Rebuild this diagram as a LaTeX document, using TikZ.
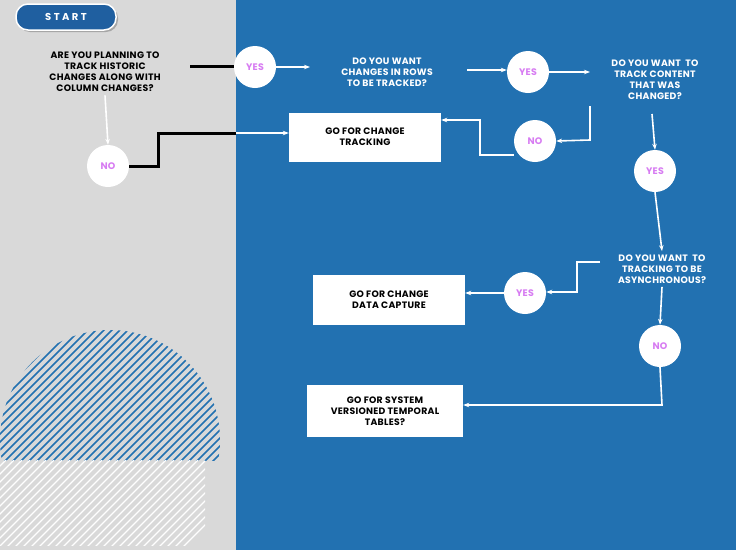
\documentclass[tikz,border=0pt]{standalone}
\usepackage{fontspec}
\setmainfont{Poppins}[LetterSpace=3]
\usetikzlibrary{arrows.meta}
\definecolor{bluebg}{HTML}{2271B1}
\definecolor{grayp}{HTML}{D9D9D9}
\definecolor{pink}{HTML}{D77CF2}
\definecolor{startb}{HTML}{1F5FA0}
\begin{document}
\begin{tikzpicture}[x=1pt,y=-1pt,
 txt/.style={align=center,font=\bfseries\fontsize{9.3}{11}\selectfont},
 wt/.style={txt,text=white},
 circ/.style={circle,fill=white,minimum size=42pt,inner sep=0pt,text=pink,font=\bfseries\fontsize{9.5}{10}\selectfont},
 box/.style={fill=white,txt,text=black,inner sep=0pt},
 wa/.style={draw=white,line width=1.6pt,-{Stealth[length=6pt]}},
 ba/.style={draw=black,line width=3pt}]
\useasboundingbox (0,0) rectangle (736,555);
\fill[white] (0,0) rectangle (736,555);
\fill[grayp] (0,0) rectangle (236,550);
\fill[bluebg] (236,0) rectangle (736,550);
% striped circle
\begin{scope}
\clip (110,440) circle (110);
\clip (0,300) rectangle (236,460);
\foreach \i in {-40,...,60}{\draw[bluebg,line width=1.6pt] (\i*8,250) -- ++(-320,320);}
\end{scope}
\begin{scope}
\clip (0,460) rectangle (205,545);
\foreach \i in {-40,...,60}{\draw[white,line width=1.3pt] (\i*8,250) -- ++(-320,320);}
\end{scope}
% start
\fill[gray!70,rounded corners=12pt] (18,6) rectangle (118,32);
\node[draw=white,line width=1.5pt,fill=startb,rounded corners=12pt,minimum width=100pt,minimum height=26pt,text=white,font=\bfseries\fontsize{10}{11}\selectfont] (start) at (66,17) {S T A R T};
% texts
\node[txt] (q1) at (105,72) {ARE YOU PLANNING TO\\TRACK HISTORIC\\CHANGES ALONG WITH\\COLUMN CHANGES?};
\node[wt] (q2) at (387,72) {DO YOU WANT\\CHANGES IN ROWS\\TO BE TRACKED?};
\node[wt] (q3) at (655,80) {DO YOU WANT\ \ TO\\TRACK CONTENT\\THAT WAS\\CHANGED?};
\node[wt] (q4) at (662,269) {DO YOU WANT\ \ TO\\TRACKING TO BE\\ASYNCHRONOUS?};
\node[circ] (y1) at (255,67) {YES};
\node[circ] (y2) at (528,72) {YES};
\node[circ] (n1) at (108,166) {NO};
\node[circ] (n2) at (535,141) {NO};
\node[circ] (y3) at (655,171) {YES};
\node[circ] (y4) at (525,293) {YES};
\node[circ] (n3) at (660,346) {NO};
\node[box,minimum width=152pt,minimum height=49pt] (b1) at (365,137) {GO FOR CHANGE\\TRACKING};
\node[box,minimum width=152pt,minimum height=50pt] (b2) at (389,300) {GO FOR CHANGE\\DATA CAPTURE};
\node[box,minimum width=156pt,minimum height=52pt] (b3) at (385,411) {GO FOR SYSTEM\\VERSIONED TEMPORAL\\TABLES?};
% connectors
\draw[ba] (190,66) -- (y1.west|-0,66);
\draw[wa] (y1) -- (310,67);
\draw[wa] (467,70) -- (y2.west|-0,70);
\draw[wa] (y2) -- (590,72);
\draw[wa] (q1.south) -- (n1.north);
\draw[ba] (n1.east) -- (158,166) -- (158,133) -- (236,133);
\draw[wa] (236,133) -- (b1.west|-0,133);
\draw[wa] (590,106) -- (590,140) -- (n2.east);
\draw[wa] (n2.west|-0,155) -- (480,155) -- (480,120) -- (b1.east|-0,120);
\draw[wa] (652,114) -- (y3.north);
\draw[wa] (y3.south) -- (q4.north);
\draw[wa] (600,262) -- (577,262) -- (577,292) -- (y4.east|-0,292);
\draw[wa] (y4) -- (b2.east|-y4);
\draw[wa] (q4.south) -- (n3.north);
\draw[wa] (n3.south) -- (662,405) -- (b3.east|-0,405);
\end{tikzpicture}
\end{document}
